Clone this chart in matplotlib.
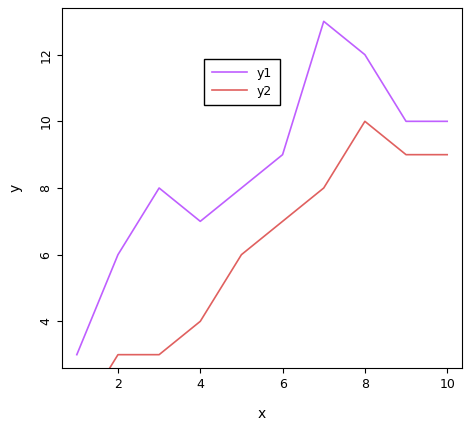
import matplotlib
matplotlib.use("Agg")
import matplotlib.pyplot as plt

x = [1, 2, 3, 4, 5, 6, 7, 8, 9, 10]
y1 = [3, 6, 8, 7, 8, 9, 13, 12, 10, 10]
y2 = [1, 3, 3, 4, 6, 7, 8, 10, 9, 9]

fig = plt.figure(figsize=(4.74, 4.30), dpi=100)
ax = fig.add_axes([62/474, 1-368/430, 400/474, 360/430])
ax.plot(x, y1, color="#BF5FFF", lw=1.2, label="y1")
ax.plot(x, y2, color="#E0605F", lw=1.2, label="y2")
ax.set_xlim(0.64, 10.36)
ax.set_ylim(2.6, 13.4)
ax.set_xticks([2, 4, 6, 8, 10])
ax.set_yticks([4, 6, 8, 10, 12])
ax.tick_params(labelsize=9)
for lab in ax.get_yticklabels():
    lab.set_rotation(90)
    lab.set_va("center")
ax.set_xlabel("x", fontsize=10, labelpad=12)
ax.set_ylabel("y", fontsize=10, labelpad=12)
ax.legend(loc="upper left", bbox_to_anchor=(0.34, 0.875), fancybox=False,
          edgecolor="black", fontsize=9, handlelength=2.8, framealpha=1,
          borderpad=0.6, labelspacing=0.4)
fig.savefig("out.png", dpi=100)
